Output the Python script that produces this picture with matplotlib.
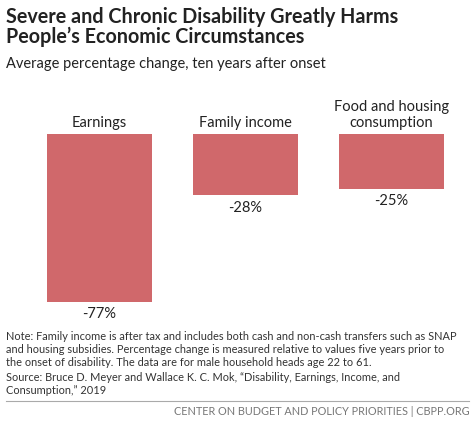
import matplotlib
matplotlib.use("Agg")
import matplotlib.pyplot as plt

categories = ["Earnings", "Family income", "Food and housing\nconsumption"]
values = [-77, -28, -25]
labels = ["-77%", "-28%", "-25%"]

plt.rcParams['font.family'] = ['Lato', 'DejaVu Sans']
fig = plt.figure(figsize=(4.74, 4.24), dpi=100)
H = 424.0
ax = fig.add_axes([26.5/474, 1-308.5/H, 437.5/474, 174.5/H])
x = range(len(values))
ax.bar(x, values, width=0.72, color="#d0686b")
ax.set_xlim(-0.5, 2.5)
ax.set_ylim(-80, 0)
ax.axis("off")
for i, (v, c, l) in enumerate(zip(values, categories, labels)):
    ax.text(i, 2, c, ha="center", va="bottom", fontsize=10.5, color="#222222", linespacing=1.15)
    ax.text(i, v - 2.5, l, ha="center", va="top", fontsize=10.5, color="#222222")

fig.text(0.012, 1-7/H, "Severe and Chronic Disability Greatly Harms\nPeople’s Economic Circumstances",
         ha="left", va="top", fontsize=14.2, fontweight="bold", color="#222222", linespacing=1.0)
fig.text(0.012, 1-57/H, "Average percentage change, ten years after onset",
         ha="left", va="top", fontsize=10.5, color="#222222")
note = ("Note: Family income is after tax and includes both cash and non-cash transfers such as SNAP\n"
        "and housing subsidies. Percentage change is measured relative to values five years prior to\n"
        "the onset of disability. The data are for male household heads age 22 to 61.")
fig.text(0.012, 1-331/H, note, ha="left", va="top", fontsize=7.9, color="#333333", linespacing=1.2)
fig.text(0.012, 1-372/H, "Source: Bruce D. Meyer and Wallace K. C. Mok, “Disability, Earnings, Income, and\nConsumption,” 2019",
         ha="left", va="top", fontsize=7.9, color="#333333", linespacing=1.2)
fig.add_artist(plt.Line2D([0.012, 0.99], [1-401/H, 1-401/H], color="#aaaaaa", lw=0.8))
fig.text(0.99, 1-406/H, "CENTER ON BUDGET AND POLICY PRIORITIES | CBPP.ORG",
         ha="right", va="top", fontsize=7.8, color="#777777")
fig.savefig("out.png", dpi=100)
